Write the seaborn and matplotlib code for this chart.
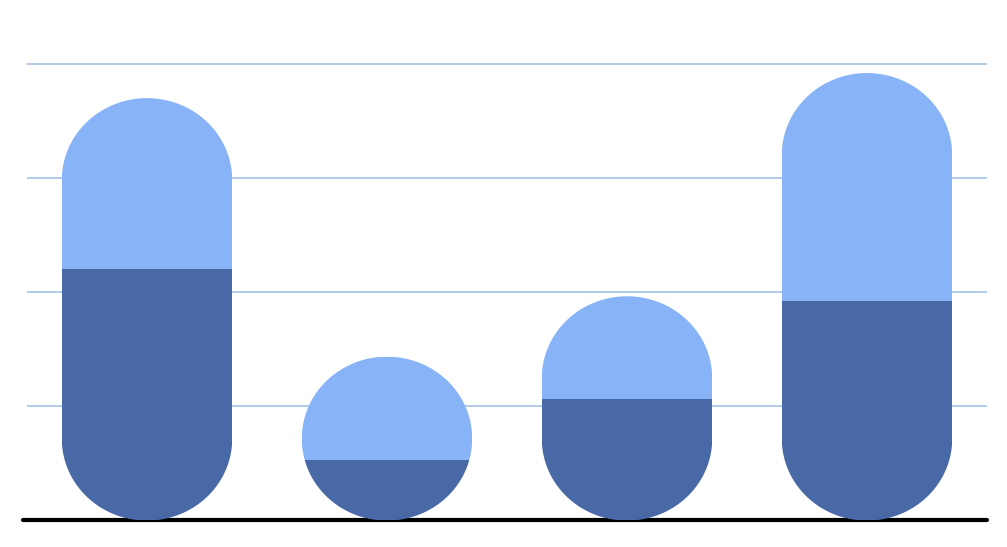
import matplotlib
matplotlib.use("Agg")
import matplotlib.pyplot as plt
import matplotlib.transforms as mtransforms
from matplotlib.patches import Polygon
import numpy as np
import pandas as pd
import seaborn as sns

# values (grid step = 10)
categories = ["A", "B", "C", "D"]
lower = [22.0, 5.2, 10.6, 19.2]
upper = [15.0, 9.1, 9.0, 20.0]
grid_ticks = [10, 20, 30, 40]

dark = "#4868a6"
light = "#88b4f7"

df = pd.DataFrame({"cat": categories, "lower": lower, "upper": upper})


def pill(px0, py0, w, h):
    # rounded rectangle with (near circular) elliptical corners, pixel coords
    rx = w / 2
    ry = min(0.48 * w, h / 2)
    t = np.linspace(0, np.pi / 2, 40)
    pts = []
    # top-right, top-left, bottom-left, bottom-right
    for cx, cy, a0 in [(px0 + w - rx, py0 + h - ry, 0),
                       (px0 + rx, py0 + h - ry, np.pi / 2),
                       (px0 + rx, py0 + ry, np.pi),
                       (px0 + w - rx, py0 + ry, 3 * np.pi / 2)]:
        a = a0 + t
        pts.append(np.column_stack([cx + rx * np.cos(a), cy + ry * np.sin(a)]))
    return Polygon(np.vstack(pts), closed=True,
                   transform=mtransforms.IdentityTransform())


sns.set_style("white")
fig = plt.figure(figsize=(10.07, 5.47), dpi=100)
ax = fig.add_axes([27 / 1007, 27.5 / 547, 960 / 1007, 512.5 / 547])

sns.barplot(data=df, x="cat", y="lower", color=dark, width=0.71,
            saturation=1, linewidth=0, ax=ax, zorder=3)
sns.barplot(data=df, x="cat", y="upper", bottom=df["lower"], color=light,
            width=0.71, saturation=1, linewidth=0, ax=ax, zorder=3)

ax.set_xlim(-0.5, len(categories) - 0.5)
ax.set_ylim(0, 45)
ax.set_yticks(grid_ticks)
ax.yaxis.grid(True, color="#9dbde3", linewidth=1.1)
ax.set_axisbelow(True)
ax.tick_params(left=False, bottom=False, labelleft=False, labelbottom=False)
ax.set_xlabel("")
ax.set_ylabel("")
for s in ax.spines.values():
    s.set_visible(False)

# baseline
ax.plot([-0.004, 1.0], [0, 0], transform=ax.get_yaxis_transform(),
        color="black", linewidth=3, clip_on=False, zorder=2,
        solid_capstyle="round")

# pill-shaped clipping per stacked column, done in pixel space
n = len(categories)
bars = ax.patches
for i in range(n):
    b_low, b_up = bars[i], bars[i + n]
    x0 = b_low.get_x()
    x1 = x0 + b_low.get_width()
    (px0, py0) = ax.transData.transform((x0, -0.1))
    (px1, py1) = ax.transData.transform((x1, lower[i] + upper[i]))
    clip = pill(px0, py0, px1 - px0, py1 - py0)
    b_low.set_clip_path(clip)
    b_up.set_clip_path(clip)

fig.savefig("out.png", dpi=100)
